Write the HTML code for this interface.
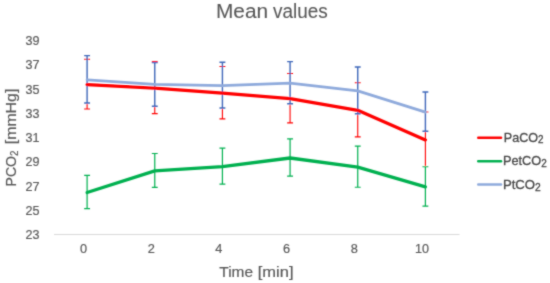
<!DOCTYPE html>
<html><head><meta charset="utf-8"><style>
html,body{margin:0;padding:0;background:#fff;width:550px;height:283px;overflow:hidden}
svg{display:block}

text{font-family:"Liberation Sans", sans-serif;fill:#595959;stroke:#595959;stroke-width:0.2px}
.ttl text{stroke-width:0.1px}
.leg text{fill:#474747;stroke:#474747;stroke-width:0.3px}
</style></head><body>
<svg width="550" height="283" viewBox="0 0 550 283">
<defs><filter id="b" x="0" y="0" width="550" height="283" filterUnits="userSpaceOnUse"><feConvolveMatrix order="3" kernelMatrix="1 3 1 3 16 3 1 3 1" edgeMode="none"/></filter></defs>
<rect width="550" height="283" fill="#fff"/>
<g filter="url(#b)">
<g font-size="20" class="ttl"><text x="215.9" y="17.9" textLength="52.2" lengthAdjust="spacingAndGlyphs">Mean</text><text x="273.0" y="17.9" textLength="54.8" lengthAdjust="spacingAndGlyphs">values</text></g>
<line x1="54" y1="234.5" x2="459.5" y2="234.5" stroke="#D9D9D9" stroke-width="1"/>
<g font-size="13.2">
<text x="39.5" y="239.00" text-anchor="end" textLength="14.0" lengthAdjust="spacingAndGlyphs">23</text>
<text x="39.5" y="214.78" text-anchor="end" textLength="14.0" lengthAdjust="spacingAndGlyphs">25</text>
<text x="39.5" y="190.56" text-anchor="end" textLength="14.0" lengthAdjust="spacingAndGlyphs">27</text>
<text x="39.5" y="166.34" text-anchor="end" textLength="14.0" lengthAdjust="spacingAndGlyphs">29</text>
<text x="39.5" y="142.12" text-anchor="end" textLength="14.0" lengthAdjust="spacingAndGlyphs">31</text>
<text x="39.5" y="117.90" text-anchor="end" textLength="14.0" lengthAdjust="spacingAndGlyphs">33</text>
<text x="39.5" y="93.68" text-anchor="end" textLength="14.0" lengthAdjust="spacingAndGlyphs">35</text>
<text x="39.5" y="69.46" text-anchor="end" textLength="14.0" lengthAdjust="spacingAndGlyphs">37</text>
<text x="39.5" y="45.24" text-anchor="end" textLength="14.0" lengthAdjust="spacingAndGlyphs">39</text>
<text x="83.60" y="253.2" text-anchor="middle" textLength="7.1" lengthAdjust="spacingAndGlyphs">0</text>
<text x="151.26" y="253.2" text-anchor="middle" textLength="7.1" lengthAdjust="spacingAndGlyphs">2</text>
<text x="218.92" y="253.2" text-anchor="middle" textLength="7.1" lengthAdjust="spacingAndGlyphs">4</text>
<text x="286.58" y="253.2" text-anchor="middle" textLength="7.1" lengthAdjust="spacingAndGlyphs">6</text>
<text x="354.24" y="253.2" text-anchor="middle" textLength="7.1" lengthAdjust="spacingAndGlyphs">8</text>
<text x="421.90" y="253.2" text-anchor="middle" textLength="14.0" lengthAdjust="spacingAndGlyphs">10</text>
</g>
<g font-size="15.3"><text x="219.3" y="277" textLength="33.7" lengthAdjust="spacingAndGlyphs">Time</text><text x="257.8" y="277" textLength="35.7" lengthAdjust="spacingAndGlyphs">[min]</text></g>
<text transform="translate(16.4,186.5) rotate(-90)" font-size="15.1" textLength="36" lengthAdjust="spacingAndGlyphs">PCO<tspan font-size="10.5" dy="1.5">2</tspan></text>
<text transform="translate(16.4,144.2) rotate(-90)" font-size="15.1" textLength="55.5" lengthAdjust="spacingAndGlyphs">[mmHg]</text>
<path d="M87.10,103.60V109.00M84.15,59.20H90.05M84.15,109.00H90.05" stroke="#FF0000" stroke-width="1.1" fill="none"/>
<path d="M154.76,61.60V62.00M154.76,106.80V113.60M151.81,61.60H157.71M151.81,113.60H157.71" stroke="#FF0000" stroke-width="1.1" fill="none"/>
<path d="M222.42,108.60V118.90M219.47,66.50H225.37M219.47,118.90H225.37" stroke="#FF0000" stroke-width="1.1" fill="none"/>
<path d="M290.08,104.40V122.90M287.13,73.50H293.03M287.13,122.90H293.03" stroke="#FF0000" stroke-width="1.1" fill="none"/>
<path d="M357.74,114.30V136.85M354.79,82.75H360.69M354.79,136.85H360.69" stroke="#FF0000" stroke-width="1.1" fill="none"/>
<path d="M425.40,131.80V166.15M422.45,112.05H428.35" stroke="#FF0000" stroke-width="1.1" fill="none"/>
<path d="M87.10,175.35V208.65M84.15,175.35H90.05M84.15,208.65H90.05" stroke="#00B050" stroke-width="1.2" fill="none"/>
<path d="M154.76,153.50V187.30M151.81,153.50H157.71M151.81,187.30H157.71" stroke="#00B050" stroke-width="1.2" fill="none"/>
<path d="M222.42,148.20V184.20M219.47,148.20H225.37M219.47,184.20H225.37" stroke="#00B050" stroke-width="1.2" fill="none"/>
<path d="M290.08,138.90V176.10M287.13,138.90H293.03M287.13,176.10H293.03" stroke="#00B050" stroke-width="1.2" fill="none"/>
<path d="M357.74,146.15V187.25M354.79,146.15H360.69M354.79,187.25H360.69" stroke="#00B050" stroke-width="1.2" fill="none"/>
<path d="M425.40,166.75V206.05M422.45,166.75H428.35M422.45,206.05H428.35" stroke="#00B050" stroke-width="1.2" fill="none"/>
<path d="M87.10,55.60V103.00M84.15,55.60H90.05M84.15,103.00H90.05" stroke="#3F68BA" stroke-width="1.4" fill="none"/>
<path d="M154.76,62.60V106.20M151.81,62.60H157.71M151.81,106.20H157.71" stroke="#3F68BA" stroke-width="1.4" fill="none"/>
<path d="M222.42,62.30V108.00M219.47,62.30H225.37M219.47,108.00H225.37" stroke="#3F68BA" stroke-width="1.4" fill="none"/>
<path d="M290.08,61.60V103.80M287.13,61.60H293.03M287.13,103.80H293.03" stroke="#3F68BA" stroke-width="1.4" fill="none"/>
<path d="M357.74,67.00V113.70M354.79,67.00H360.69M354.79,113.70H360.69" stroke="#3F68BA" stroke-width="1.4" fill="none"/>
<path d="M425.40,92.00V131.20M422.45,92.00H428.35M422.45,131.20H428.35" stroke="#3F68BA" stroke-width="1.4" fill="none"/>
<g transform="translate(0,0.5)">
<polyline points="87.10,84.10 154.76,87.60 222.42,92.70 290.08,98.20 357.74,109.80 425.40,139.40" fill="none" stroke="#FF0000" stroke-width="3.3" stroke-linejoin="round" stroke-linecap="round"/>
<polyline points="87.10,192.00 154.76,170.40 222.42,166.20 290.08,157.50 357.74,166.70 425.40,186.40" fill="none" stroke="#00B050" stroke-width="3.3" stroke-linejoin="round" stroke-linecap="round"/>
<polyline points="87.10,79.30 154.76,83.90 222.42,85.15 290.08,82.70 357.74,90.35 425.40,111.60" fill="none" stroke="#8FAADC" stroke-width="2.8" stroke-linejoin="round" stroke-linecap="round"/>
</g>
<g font-size="13.2" class="leg">
<line x1="478.3" y1="137.8" x2="501" y2="137.8" stroke="#FF0000" stroke-width="2.6" stroke-linecap="round"/>
<text x="503.8" y="141.8" textLength="39.7" lengthAdjust="spacingAndGlyphs">PaCO<tspan font-size="10.3" dy="1.6">2</tspan></text>
<line x1="478.3" y1="161.2" x2="501" y2="161.2" stroke="#00B050" stroke-width="2.6" stroke-linecap="round"/>
<text x="502.9" y="165.3" textLength="43.8" lengthAdjust="spacingAndGlyphs">PetCO<tspan font-size="10.3" dy="1.6">2</tspan></text>
<line x1="478.3" y1="184.5" x2="501" y2="184.5" stroke="#8FAADC" stroke-width="2.6" stroke-linecap="round"/>
<text x="502.9" y="189.0" textLength="37.9" lengthAdjust="spacingAndGlyphs">PtCO<tspan font-size="10.3" dy="1.6">2</tspan></text>
</g>
</g>
</svg>
</body></html>
